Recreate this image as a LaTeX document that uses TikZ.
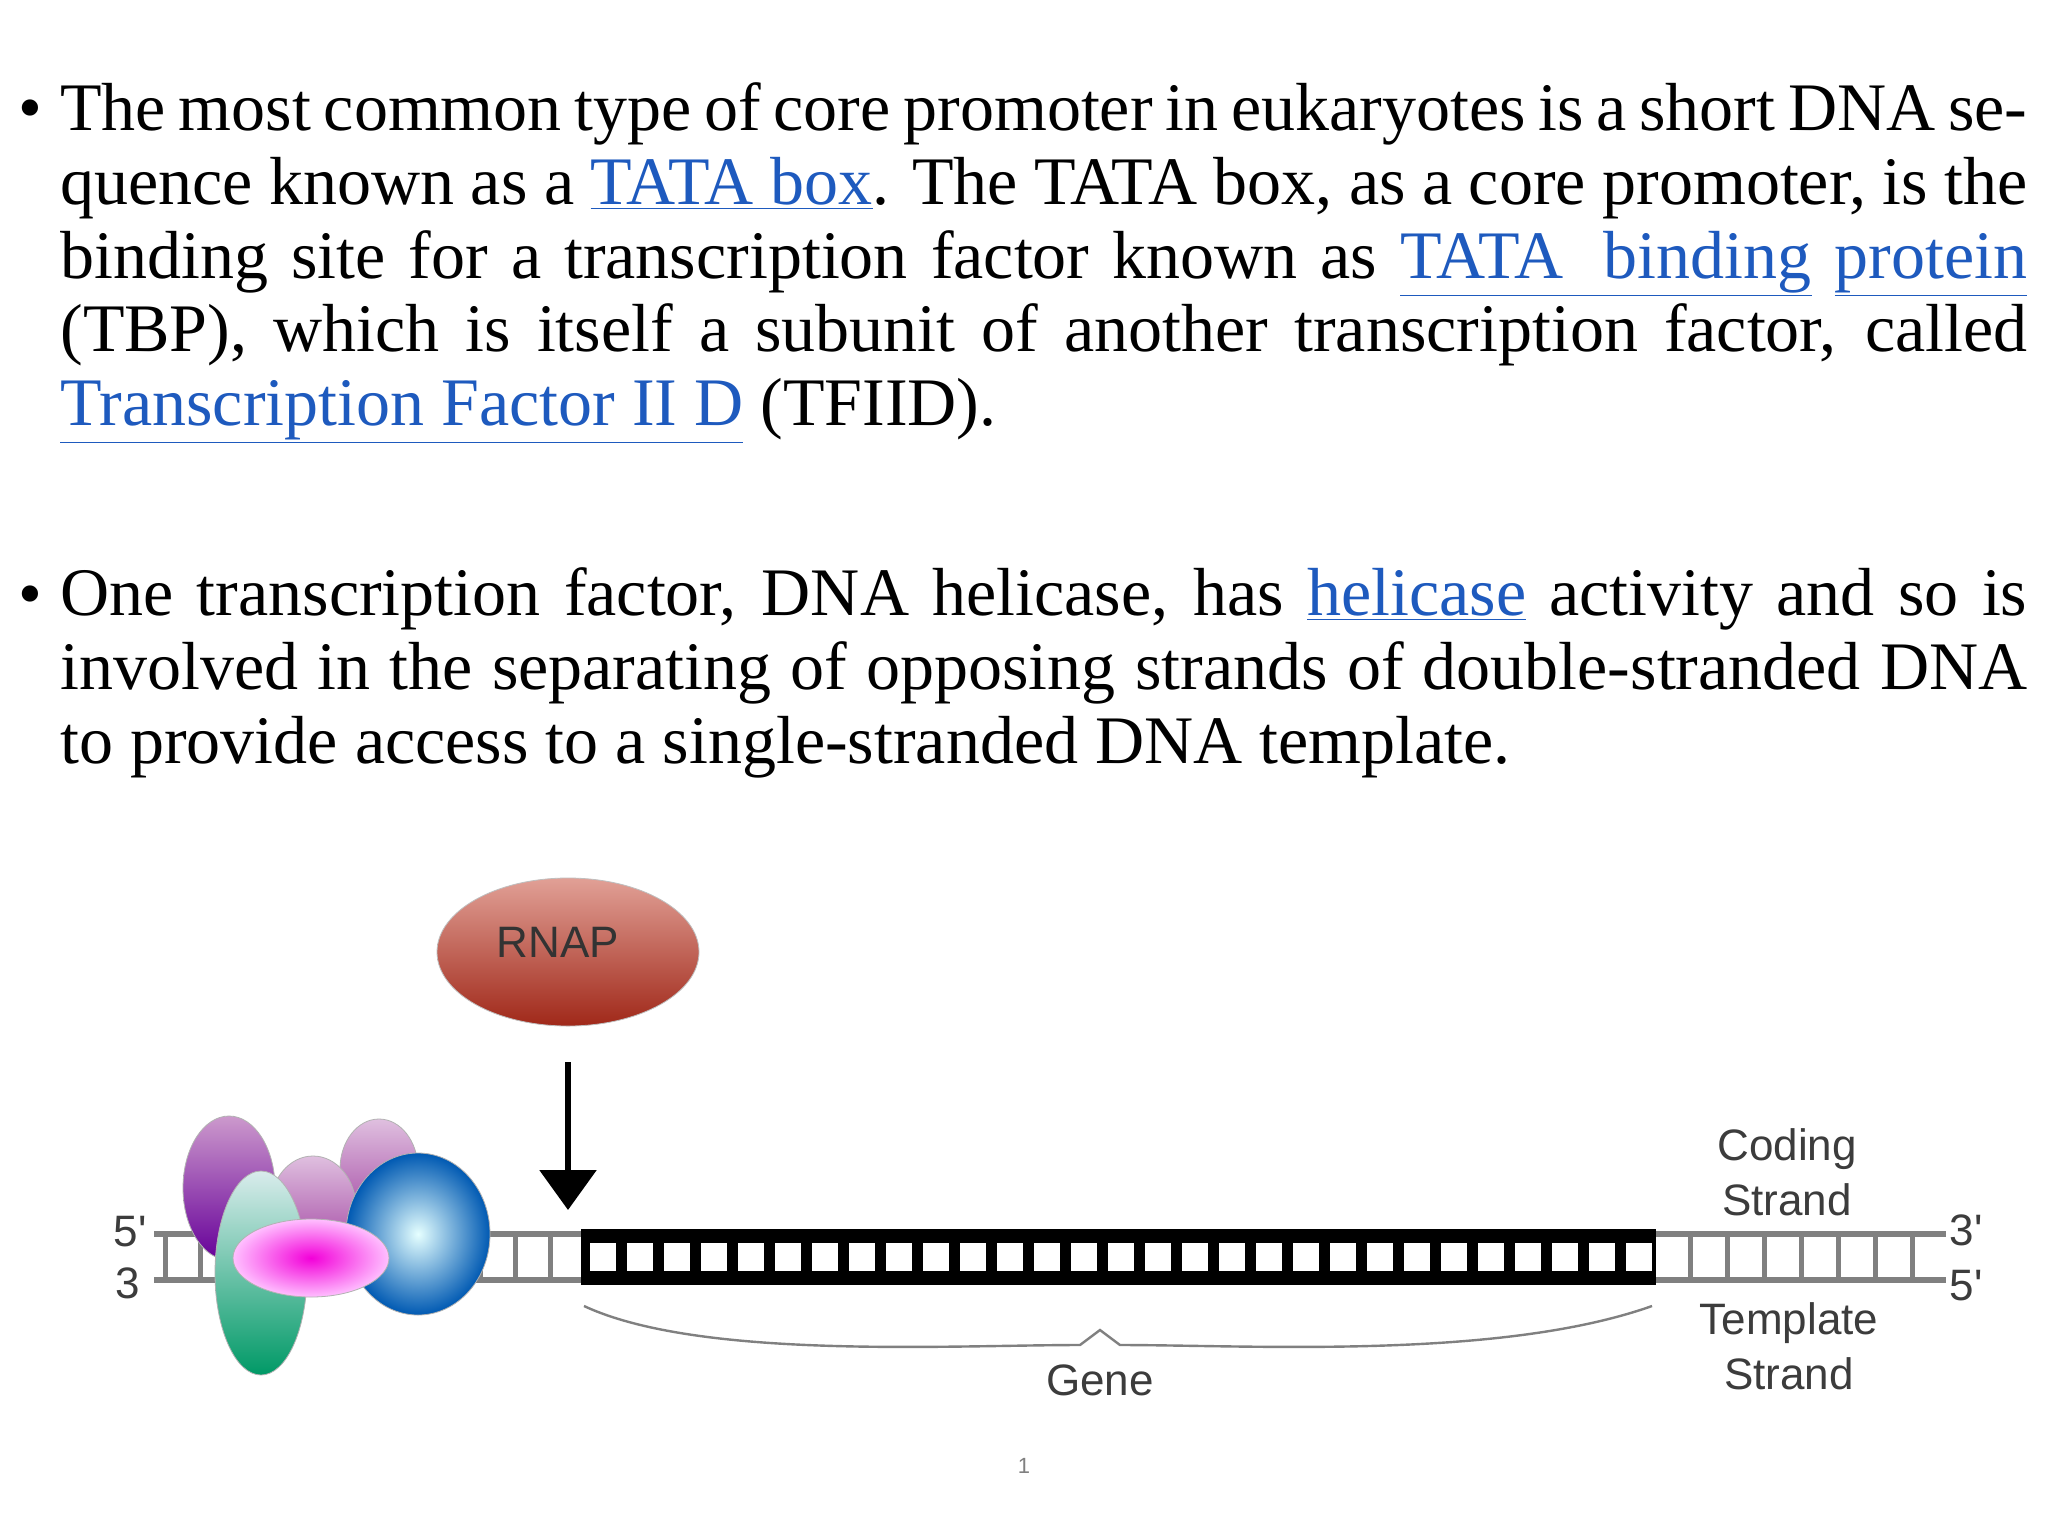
\documentclass[tikz,border=0pt]{standalone}
\usepackage{fontspec}
\usetikzlibrary{arrows.meta}
\setmainfont{Liberation Serif}
\newfontfamily\lsans{Liberation Sans}
\definecolor{linkblue}{RGB}{30,90,190}
\definecolor{lbl}{RGB}{60,60,60}
\newcommand{\lnk}[1]{{\color{linkblue}\underline{#1}}}
\begin{document}
\begin{tikzpicture}[x=0.5pt,y=-0.5pt,
  para/.style={anchor=north west,inner sep=0pt,text width=983.5pt,align=justify,font=\fontsize{34}{36.8}\selectfont},
  bul/.style={anchor=base west,inner sep=0pt,font=\fontsize{34}{36.8}\selectfont},
  lab/.style={inner sep=0pt,text=lbl,font=\lsans\fontsize{22}{26}\selectfont,align=center},
  blob/.style={draw=gray!60,line width=0.4pt}]
\useasboundingbox (0,0) rectangle (2048,1536);
\fill[white] (0,0) rectangle (2048,1536);
% text
\node[bul] (b1) at (18,131) {•};
\node[para] (p1) at (60,79) {\strut The most common type of core promoter in eukaryotes is a short DNA sequence known as a \lnk{TATA box}. The TATA box, as a core promoter, is the binding site for a transcription factor known as \lnk{TATA\hspace{0.6em}binding} \lnk{protein} (TBP), which is itself a subunit of another transcription factor, called \lnk{Transcription Factor II D} (TFIID).};
\node[bul] (b2) at (18,616) {•};
\node[para] (p2) at (60,564) {\strut One transcription factor, DNA helicase, has \lnk{helicase} activity and so is involved in the separating of opposing strands of double-stranded DNA to provide access to a single-stranded DNA template.};
% DNA gray parts
\draw[gray,line width=3pt] (154,1234) -- (581,1234) (154,1280) -- (581,1280);
\draw[gray,line width=3pt] (1656,1234) -- (1946,1234) (1656,1280) -- (1946,1280);
\foreach \x in {165,200,...,575} \draw[gray,line width=2.5pt] (\x,1234) -- (\x,1280);
\foreach \x in {1690,1727,...,1946} \draw[gray,line width=2.5pt] (\x,1234) -- (\x,1280);
% black part
\fill[black] (581,1229) rectangle (1656,1285);
\foreach \i in {0,...,28} \fill[white] ({590+\i*37},1243) rectangle ({616+\i*37},1271);
% proteins
\shade[blob,top color=violet!40,bottom color=violet!80!blue] (229,1188) ellipse [x radius=23pt,y radius=36pt];
\shade[blob,top color=violet!25,bottom color=violet!70] (379,1169) ellipse [x radius=19.5pt,y radius=25pt];
\shade[blob,top color=violet!25,bottom color=violet!75] (313,1208) ellipse [x radius=21.5pt,y radius=26pt];
\shade[blob,top color=teal!15,bottom color=teal!80!green] (261,1273) ellipse [x radius=23pt,y radius=51pt];
\shade[blob,inner color=cyan!10!white,outer color=cyan!50!blue!70!black] (418,1234) ellipse [x radius=36pt,y radius=40.5pt];
\shade[blob,inner color=magenta!80!purple,outer color=magenta!25] (311,1258) ellipse [x radius=39pt,y radius=19.5pt];
% RNAP
\shade[draw=gray!50,top color={rgb,255:red,225;green,160;blue,150},bottom color={rgb,255:red,160;green,40;blue,25}] (568,952) ellipse [x radius=65.5pt,y radius=37pt];
\node[inner sep=0pt,font=\lsans\fontsize{22}{26}\selectfont,text=black!80] (rnap) at (558,942) {RNAP};
\coordinate (at) at (568,1062);
\coordinate (ah) at (568,1210);
\draw[line width=3pt,-{Triangle[width=28pt,length=20pt]}] (at) -- (ah);
% labels
\node[lab] (l5) at (130,1232) {5'};
\node[lab] (l3) at (128,1283) {3};
\node[lab] (r3) at (1966,1230) {3'};
\node[lab] (r5) at (1966,1286) {5'};
\node[lab,font=\lsans\fontsize{22}{27.5}\selectfont] (cs) at (1787,1172) {Coding\\Strand};
\node[lab,font=\lsans\fontsize{22}{27.5}\selectfont] (ts) at (1789,1346) {Template\\Strand};
\node[lab] (gene) at (1100,1380) {Gene};
\coordinate (g1) at (584,1306);
\coordinate (gc) at (1100,1330);
\coordinate (g2) at (1652,1306);
\draw[gray,line width=1.2pt] (g1) .. controls (700,1360) and (950,1345) .. (1080,1345) -- (gc) -- (1120,1345) .. controls (1250,1345) and (1500,1360) .. (g2);
\node[inner sep=0pt,text=gray,font=\lsans\fontsize{11}{13}\selectfont] (pg) at (1024,1466) {1};
\end{tikzpicture}
\end{document}
